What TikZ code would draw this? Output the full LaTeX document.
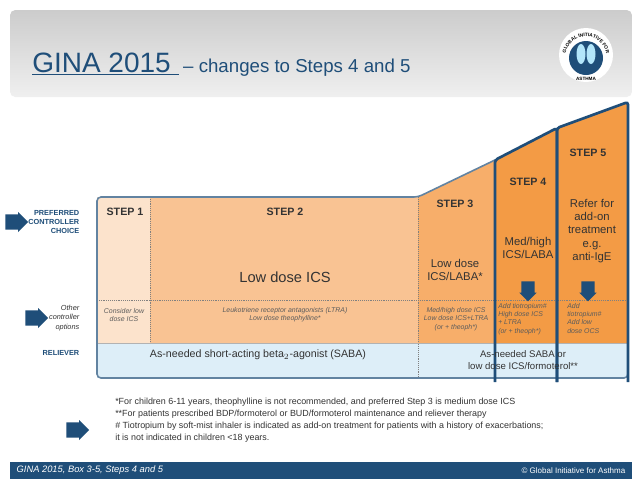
\documentclass[tikz,border=0pt]{standalone}
\usepackage{fontspec}
\setmainfont{Liberation Sans}
\usetikzlibrary{shapes.arrows,decorations.text}
\definecolor{ginablue}{HTML}{1F4E79}
\definecolor{sone}{HTML}{FCE3CC}
\definecolor{stwo}{HTML}{F9C393}
\definecolor{sthree}{HTML}{F7AE6A}
\definecolor{sfour}{HTML}{F39B45}
\definecolor{relblue}{HTML}{DDEEF8}
\definecolor{txt}{HTML}{333333}
\begin{document}
\begin{tikzpicture}[x=0.75pt,y=-0.75pt,
  steplabel/.style={font=\fontsize{8}{9}\selectfont\bfseries,text=txt},
  body/.style={font=\fontsize{8.5}{10}\selectfont,text=txt,align=center},
  other/.style={font=\fontsize{5.2}{6.2}\selectfont\itshape,text=txt!80,align=center},
  side/.style={font=\fontsize{5.5}{7}\selectfont,text=ginablue,align=right,anchor=east},
  bluearrow/.style={single arrow,fill=ginablue,draw=none,minimum height=#1,minimum width=15pt,single arrow head extend=1pt,inner sep=3pt},
  divline/.style={densely dotted,gray,line width=0.4pt},
  stepframe/.style={draw=ginablue,line width=2pt,rounded corners=2pt}]
\useasboundingbox (0,0) rectangle (638,479);
\fill[white] (0,0) rectangle (638,479);
% header
\shade[top color=gray!40,bottom color=gray!12,rounded corners=4pt] (10,10) rectangle (632,97);
\node[anchor=base west,font=\fontsize{21}{24}\selectfont,text=ginablue,inner sep=0] (title) at (32,72) {\underline{GINA 2015 }\,\fontsize{14}{16}\selectfont -- changes to Steps 4 and 5};
% logo
\fill[white] (586,55) circle (27);
\fill[ginablue] (586,58) circle (17);
\fill[cyan!30] (581,54) ellipse (4.5 and 10);
\fill[cyan!30] (591,54) ellipse (4.5 and 10);
\begin{scope}[yscale=-1]
\path[decorate,decoration={text along path,text={|\fontsize{3.6}{4}\selectfont\bfseries|GLOBAL INITIATIVE FOR},text align=center}] (586,-57) ++(180:20.5) arc[start angle=180,end angle=0,radius=20.5];
\end{scope}
\node[font=\fontsize{3.5}{4}\selectfont\bfseries] (asthma) at (586,79) {ASTHMA};
% columns
\fill[sone] (97,197) rectangle (150,343);
\fill[stwo] (150,197) rectangle (418,343);
\fill[sthree] (418,197) -- (495,160) -- (495,343) -- (418,343) -- cycle;
\fill[sfour] (495,160) -- (557,128) -- (557,343) -- (495,343) -- cycle;
\fill[sfour] (557,128) -- (628,102) -- (628,343) -- (557,343) -- cycle;
\fill[relblue] (97,343) rectangle (628,378);
\draw[divline] (150,197) -- (150,343);
\draw[divline] (418,197) -- (418,378);
\draw[divline] (97,300) -- (628,300);
\draw[gray!60,line width=0.5pt] (97,343) -- (628,343);
\draw[ginablue!70,line width=1.2pt,rounded corners=3pt] (628,343) -- (628,378) -- (97,378) -- (97,197) -- (418,197) -- (495,160);
\draw[stepframe] (495,382) -- (495,160) -- (557,128) -- (557,382);
\draw[stepframe] (557,382) -- (557,128) -- (628,102) -- (628,382);
% labels
\node[steplabel] (s1) at (125,212) {STEP 1};
\node[steplabel] (s2) at (285,212) {STEP 2};
\node[steplabel] (s3) at (455,204) {STEP 3};
\node[steplabel] (s4) at (528,182) {STEP 4};
\node[steplabel] (s5) at (588,153) {STEP 5};
\node[body,font=\fontsize{11}{13}\selectfont] (ics) at (285,277) {Low dose ICS};
\node[body] (laba) at (455,270) {Low dose\\ICS/LABA*};
\node[body] (med) at (528,248) {Med/high\\ICS/LABA};
\node[body,inner sep=0] (refer) at (592,231) {Refer for\\add-on\\treatment\\e.g.\\anti-IgE};
\node[bluearrow=15pt,minimum width=13pt,shape border rotate=270] (a4) at (528,288) {};
\node[bluearrow=15pt,minimum width=13pt,shape border rotate=270] (a5) at (588,288) {};
\node[other] (o1) at (124,315) {Consider low\\dose ICS};
\node[other] (o2) at (285,315) {Leukotriene receptor antagonists (LTRA)\\Low dose theophylline*};
\node[other] (o3) at (456,319) {Med/high dose ICS\\Low dose ICS+LTRA\\(or + theoph*)};
\node[other,align=left,anchor=north west,inner sep=0] (o4) at (498,303) {Add tiotropium\#\\High dose ICS\\+ LTRA\\(or + theoph*)};
\node[other,align=left,anchor=north west,inner sep=0] (o5) at (567,303) {Add\\tiotropium\#\\Add low\\dose OCS};
\node[body,font=\fontsize{8}{10}\selectfont] (r1) at (258,355) {As-needed short-acting beta$_2$-agonist (SABA)};
\node[body,font=\fontsize{7.2}{9}\selectfont] (r2) at (523,360) {As-needed SABA or\\low dose ICS/formoterol**};
% side labels
\node[side,font=\fontsize{5.5}{7}\selectfont\bfseries] (pref) at (84,222) {PREFERRED\\CONTROLLER\\CHOICE};
\node[side,text=txt,font=\fontsize{5.5}{7}\selectfont\itshape] (oth) at (84,318) {Other\\controller\\options};
\node[side,font=\fontsize{5.5}{7}\selectfont\bfseries] (rel) at (84,353) {RELIEVER};
\node[bluearrow=17pt] (ar1) at (13,222) {};
\node[bluearrow=17pt] (ar2) at (33,318) {};
% footnotes
\node[anchor=north west,align=left,font=\fontsize{6.7}{9}\selectfont,text=txt,inner sep=0] (foot) at (115,398) {*For children 6-11 years, theophylline is not recommended, and preferred Step 3 is medium dose ICS\\**For patients prescribed BDP/formoterol or BUD/formoterol maintenance and reliever therapy\\\# Tiotropium by soft-mist inhaler is indicated as add-on treatment for patients with a history of exacerbations;\\it is not indicated in children <18 years.};
\node[bluearrow=17pt] (ar3) at (74,430) {};
% footer
\fill[ginablue] (10,462) rectangle (632,479);
\node[anchor=west,font=\fontsize{7}{8}\selectfont\itshape,text=white] (fl) at (12,470) {GINA 2015, Box 3-5, Steps 4 and 5};
\node[anchor=east,font=\fontsize{6}{7}\selectfont,text=white] (fr) at (630,471) {© Global Initiative for Asthma};
\end{tikzpicture}
\end{document}
